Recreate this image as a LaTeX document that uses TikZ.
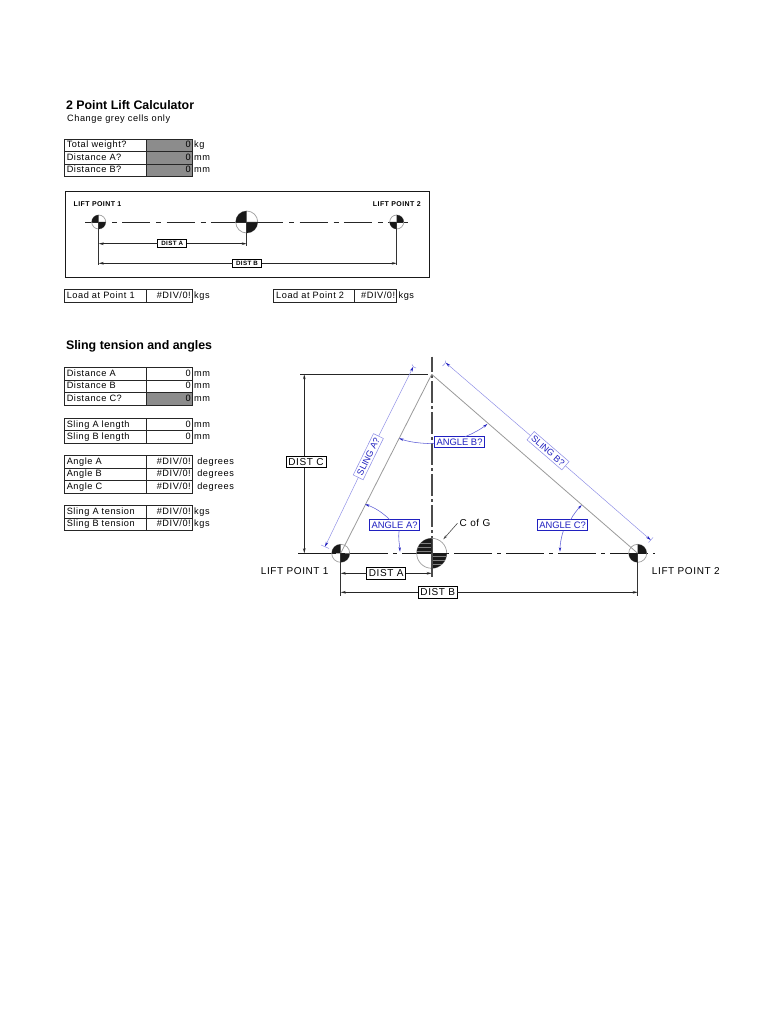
\documentclass[tikz,border=0pt]{standalone}
\usepackage{fontspec}
\setmainfont{Liberation Sans}
\newfontfamily\lsfont[LetterSpace=6]{Liberation Sans}
\usetikzlibrary{arrows.meta,calc}
\definecolor{cellgrey}{HTML}{8C8C8C}
\definecolor{inkblue}{HTML}{2020C0}
\definecolor{dimblue}{HTML}{8A8AE6}
\definecolor{slinggrey}{HTML}{9A9A9A}
\tikzset{
  x=1pt,y=-1pt,
  cell/.style={draw=black!85,line width=0.9pt,anchor=north west,outer sep=0pt,inner sep=0pt,font=\lsfont\fontsize{9.2}{10}\selectfont,text height=6.8pt,text depth=1.8pt},
  lab/.style={cell,text width=#1-5pt,minimum width=#1,align=left,inner xsep=2.5pt},
  val/.style={cell,text width=#1-3pt,minimum width=#1,align=right,inner xsep=1.5pt},
  unit/.style={anchor=west,inner sep=0pt,font=\lsfont\fontsize{9.2}{10}\selectfont,text height=6.8pt,text depth=1.8pt},
  ttl/.style={anchor=west,inner sep=0pt,font=\bfseries\fontsize{12.4}{14}\selectfont},
  small/.style={anchor=center,inner sep=0pt,font=\lsfont\bfseries\fontsize{7}{8}\selectfont},
  bigtxt/.style={anchor=center,inner sep=0pt,font=\lsfont\fontsize{10}{12}\selectfont},
  dimtag/.style={draw=black,line width=0.9pt,fill=white,inner sep=0pt,outer sep=0pt,minimum width=#1,minimum height=11.5pt,font=\lsfont\fontsize{10}{12}\selectfont},
  minitag/.style={draw=black,line width=0.8pt,fill=white,inner sep=0pt,outer sep=0pt,minimum width=#1,minimum height=8pt,font=\lsfont\bfseries\fontsize{6.2}{7}\selectfont},
  angtag/.style={draw=inkblue,line width=0.9pt,fill=white,text=inkblue,inner sep=0pt,outer sep=0pt,minimum width=50.6pt,minimum height=11pt,font=\fontsize{9.4}{11}\selectfont},
  slingtag/.style={draw=dimblue,line width=0.5pt,fill=white,text=inkblue,inner sep=0pt,outer sep=0pt,minimum width=46pt,minimum height=11pt,font=\fontsize{9}{11}\selectfont},
  dimline/.style={line width=0.8pt,black!85},
  tipped/.style={dimline,-{Stealth[length=5pt,width=2.6pt]}},
  bluedim/.style={line width=0.45pt,dimblue},
  bluetip/.style={bluedim,-{Stealth[length=5pt,width=2.6pt,inkblue]}},
  bluearc/.style={line width=0.55pt,dimblue!60!inkblue,-{Stealth[length=4.5pt,width=2.4pt,inkblue]}},
  sling/.style={line width=0.8pt,slinggrey},
  ext/.style={line width=1.1pt,black!80},
}
\newcommand{\quadmark}[5]{% name, x, y, r, mirrored
  \coordinate (#1) at (#2,#3);
  \draw[line width=0.7pt,black!38] (#1) circle[radius=#4];
  \ifnum#5=0
    \fill[black!90] (#1) -- ++(-#4,0) arc[start angle=180,end angle=270,radius=#4] -- cycle;
    \fill[black!90] (#1) -- ++(#4,0) arc[start angle=0,end angle=90,radius=#4] -- cycle;
  \else
    \fill[black!90] (#1) -- ++(#4,0) arc[start angle=0,end angle=-90,radius=#4] -- cycle;
    \fill[black!90] (#1) -- ++(-#4,0) arc[start angle=180,end angle=90,radius=#4] -- cycle;
  \fi
}
\newcommand{\tblrow}[7]{% name, y0, h, label, value, unit, fill
  \node[lab=82.4pt,minimum height=#3] (#1l) at (64.3,#2) {#4};
  \node[val=45.6pt,minimum height=#3,fill=#7] (#1v) at (146.7,#2) {#5};
  \node[unit] (#1u) at ($(#1v.east)+(1.7,0)$) {#6};
}
\begin{document}
\begin{tikzpicture}
\useasboundingbox (0,0) rectangle (768,1024);
\fill[white] (0,0) rectangle (768,1024);

% ---------- first section ----------
\node[ttl] (t1) at (65.8,105) {2 Point Lift Calculator};
\node[unit] (t1b) at (67,118.7) {Change grey cells only};

\tblrow{a}{139}{12.3pt}{Total weight?}{0}{kg}{cellgrey}
\tblrow{b}{151.3}{12.7pt}{Distance A?}{0}{mm}{cellgrey}
\tblrow{c}{164}{12.7pt}{Distance B?}{0}{mm}{cellgrey}

\draw[line width=1pt,black!90] (65,191.7) rectangle (429,277.3);
\node[small] (lp1top) at (97.5,204.5) {LIFT POINT 1};
\node[small] (lp2top) at (396.8,204.5) {LIFT POINT 2};

\coordinate (tcl) at (85,222);
\coordinate (tcr) at (408,222);
\draw[line width=0.9pt,black!85,dash pattern=on 28pt off 6pt on 5pt off 5.3pt,dash phase=7pt] (tcl) -- (tcr);
\quadmark{tl}{98.7}{222}{7}{0}
\quadmark{tm}{246.7}{222}{11}{0}
\quadmark{tr}{396.7}{222}{7}{1}
\draw[line width=0.9pt,black!85] (tm) ++(-11,0) -- ++(22,0);
\coordinate (tlb) at (98.7,265);
\coordinate (tmb) at (246.7,245.5);
\coordinate (trb) at (396.7,265);
\draw[ext] (tl) -- (tlb);
\draw[ext] (tm) -- (tmb);
\draw[ext] (tr) -- (trb);
\coordinate (tdal) at (98.7,243.7);
\coordinate (tdar) at (246.7,243.7);
\coordinate (tdbl) at (98.7,263.3);
\coordinate (tdbr) at (396.7,263.3);
\node[minitag=29pt] (tda) at (172.3,243.7) {DIST A};
\node[minitag=29pt] (tdb) at (247,263.3) {DIST B};
\draw[tipped] (tda) -- (tdal);
\draw[tipped] (tda) -- (tdar);
\draw[tipped] (tdb) -- (tdbl);
\draw[tipped] (tdb) -- (tdbr);

\tblrow{d}{289}{13.3pt}{Load at Point 1}{\#DIV/0!}{kgs}{white}
\node[lab=80.6pt,minimum height=13.3pt] (el) at (273.7,289) {Load at Point 2};
\node[val=42.4pt,minimum height=13.3pt] (ev) at (354.3,289) {\#DIV/0!};
\node[unit] (eu) at ($(ev.east)+(1.7,0)$) {kgs};

% ---------- second section ----------
\node[ttl] (t2) at (65.8,346) {Sling tension and angles};

\tblrow{f}{367.7}{12.3pt}{Distance A}{0}{mm}{white}
\tblrow{g}{380}{12.3pt}{Distance B}{0}{mm}{white}
\tblrow{h}{392.3}{12.7pt}{Distance C?}{0}{mm}{cellgrey}

\tblrow{i}{418.3}{12.4pt}{Sling A length}{0}{mm}{white}
\tblrow{j}{430.7}{12.3pt}{Sling B length}{0}{mm}{white}

\tblrow{k}{455.7}{12.3pt}{Angle A}{\#DIV/0!}{~degrees}{white}
\tblrow{l}{468}{12.3pt}{Angle B}{\#DIV/0!}{~degrees}{white}
\tblrow{m}{480.3}{12.7pt}{Angle C}{\#DIV/0!}{~degrees}{white}

\tblrow{n}{505.7}{12.3pt}{Sling A tension}{\#DIV/0!}{kgs}{white}
\tblrow{o}{518}{12.3pt}{Sling B tension}{\#DIV/0!}{kgs}{white}

% ---------- diagram ----------
\coordinate (apex) at (431.7,374.3);
\coordinate (vtop) at (431.7,356.7);
\coordinate (vbot) at (431.7,576.7);
\coordinate (hl) at (298.3,553.3);
\coordinate (hr) at (655,553.3);
\draw[line width=1.8pt,black!70,dash pattern=on 22pt off 3pt on 3pt off 3pt,dash phase=6.7pt] (vtop) -- (vbot);
\draw[line width=0.9pt,black!90,dash pattern=on 38pt off 5pt on 4pt off 5pt] (hl) -- (hr);

\quadmark{pa}{340.7}{553.3}{9}{0}
\quadmark{cg}{431.7}{553.3}{15}{0}
\quadmark{pb}{637.7}{553.3}{9}{1}
\foreach \yy/\xa/\xb in {543/420/431,547/417.5/431,551/417/431,556/432/446,560/432/445,564/432/442}
  \draw[black!50,line width=0.3pt] (\xa,\yy) -- (\xb,\yy);
\draw[line width=0.9pt,black!90] (cg) ++(-15,0) -- ++(30,0);
\draw[line width=1.8pt,black!70] (vbot) -- (cg);

\draw[sling] (pa) -- (apex);
\draw[sling] (apex) -- (pb);

% DIST C
\coordinate (dct) at (304.3,374.3);
\coordinate (dcb) at (304.3,553.3);
\coordinate (dcm) at (304.3,461.7);
\coordinate (dce) at (428,374.3);
\coordinate (dcs) at (300,374.3);
\draw[dimline] (dcs) -- (dce);
\draw[tipped] (dcm) -- (dct);
\draw[tipped] (dcm) -- (dcb);
\node[dimtag=40pt] (dc) at (306,461.7) {DIST C};

% DIST A, DIST B
\coordinate (pab) at (340.7,595.7);
\coordinate (pbb) at (637.7,595.7);
\draw[ext,line width=1.3pt] (pa) -- (pab);
\draw[ext,line width=1.3pt] (pb) -- (pbb);
\node[dimtag=39pt] (da) at (386.2,573.3) {DIST A};
\node[dimtag=39pt] (db) at (437.8,592.3) {DIST B};
\draw[tipped] (da) -- (340.7,573.3);
\draw[tipped] (da) -- (431.7,573.3);
\draw[tipped] (db) -- (340.7,592.3);
\draw[tipped] (db) -- (637.7,592.3);

% Lift labels
\node[bigtxt] (lp1) at (294.7,571.3) {LIFT POINT 1};
\node[bigtxt] (lp2) at (685.8,571.3) {LIFT POINT 2};
\node[bigtxt,anchor=west] (cgl) at (459.5,522.7) {C  of G};
\draw[line width=0.6pt,black!70,-{Stealth[length=4.5pt,width=2.4pt]}] (cgl.west) ++(-2,0.5) -- (443.3,539.3);

% Sling dimensions
\coordinate (sa1) at (325,546.7);
\coordinate (sa2) at (413.3,366.7);
\coordinate (sb1) at (445.7,362.7);
\coordinate (sb2) at (650.7,540);
\node[slingtag,rotate=63.9] (sa) at (368.3,456.7) {SLING A?};
\node[slingtag,rotate=-40.8] (sb) at (548,450.7) {SLING B?};
\draw[bluetip] (sa) -- (sa1);
\draw[bluetip] (sa) -- (sa2);
\draw[bluetip] (sb) -- (sb1);
\draw[bluetip] (sb) -- (sb2);
\draw[bluedim] (321,545) -- (sa1) -- (329,548.5);
\draw[bluedim] (412,364.5) -- (sa2) -- (416,368);
\draw[bluedim] (442.5,366) -- (sb1) -- (445.7,360.5);
\draw[bluedim] (648.5,542.5) -- (sb2) -- (653,537.5);

% Angles
\node[angtag] (aa) at (394.6,525) {ANGLE A?};
\node[angtag] (ab) at (459.5,442.2) {ANGLE B?};
\node[angtag] (ac) at (562.6,525.3) {ANGLE C?};
\coordinate (aa1) at (365,504.3);
\coordinate (aa2) at (400,551.7);
\coordinate (ab1) at (399,438.3);
\coordinate (ab2) at (487.3,424);
\coordinate (ac1) at (581.7,505);
\coordinate (ac2) at (560,551.7);
\draw[bluearc] (aa.north) ++(-5,0) .. controls (384,514) and (376,508) .. (aa1);
\draw[bluearc] (aa.south) ++(4.5,0) .. controls (398,538) and (399.5,544) .. (aa2);
\draw[bluearc] (ab.west) ++(0,1.5) .. controls (420,443.5) and (409,442) .. (ab1);
\draw[bluearc] (ab.north) ++(5.5,0) .. controls (473,433.5) and (481,429) .. (ab2);
\draw[bluearc] (ac.north) ++(8,0) .. controls (573,515) and (577,510) .. (ac1);
\draw[bluearc] (ac.south) ++(0.7,0) .. controls (561,538) and (560,545) .. (ac2);
\end{tikzpicture}
\end{document}
